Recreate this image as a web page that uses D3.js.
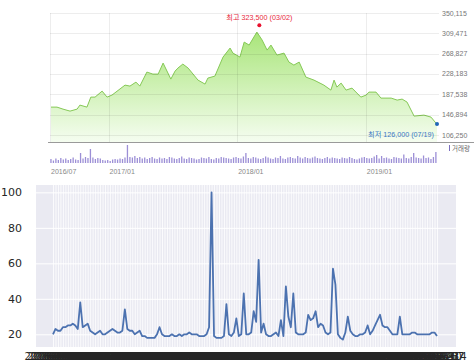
<!DOCTYPE html>
<html>
<head>
<meta charset="utf-8">
<script src="https://cdn.jsdelivr.net/npm/d3@7"></script>
<style>
  body { margin: 0; background: #fff; }
  svg { display: block; }
</style>
</head>
<body>
<svg class="chartContainer" width="474" height="364"></svg>
<script>
// ---------- top: weekly close price + volume ----------
const priceDates = [
  '2016-07-19', '2016-08-05', '2016-08-22', '2016-09-11', '2016-10-01', '2016-10-09', '2016-10-29',
  '2016-11-09', '2016-11-21', '2016-12-11', '2016-12-25', '2017-01-08', '2017-02-14', '2017-02-28',
  '2017-03-17', '2017-03-28', '2017-04-17', '2017-05-04', '2017-05-19', '2017-06-02', '2017-06-24',
  '2017-07-06', '2017-07-14', '2017-07-28', '2017-08-12', '2017-09-09', '2017-09-29', '2017-10-07',
  '2017-10-27', '2017-11-19', '2017-12-09', '2017-12-17', '2018-01-06', '2018-01-18', '2018-02-01',
  '2018-02-23', '2018-03-10', '2018-03-24', '2018-04-04', '2018-04-21', '2018-05-11', '2018-05-25',
  '2018-06-08', '2018-06-23', '2018-07-12', '2018-08-04', '2018-09-01', '2018-09-21', '2018-09-30',
  '2018-10-08', '2018-10-20', '2018-11-03', '2018-11-20', '2018-12-15', '2018-12-30', '2019-01-07',
  '2019-01-27', '2019-02-10', '2019-03-11', '2019-03-28', '2019-04-11', '2019-04-25', '2019-05-15',
  '2019-06-12', '2019-07-02', '2019-07-16', '2019-07-19'
]
const priceValues = [
  162000, 162000, 158000, 154000, 158000, 166000, 162000,
  182000, 182000, 194000, 182000, 186000, 206000, 204000,
  212000, 204000, 232000, 228000, 228000, 250000, 218000,
  234000, 240000, 248000, 240000, 216000, 208000, 220000,
  224000, 262000, 280000, 270000, 262000, 292000, 286000,
  312000, 296000, 276000, 286000, 266000, 270000, 252000,
  246000, 252000, 222000, 216000, 206000, 196000, 216000,
  202000, 210000, 196000, 200000, 182000, 186000, 192000,
  192000, 180000, 180000, 176000, 178000, 172000, 144000,
  146000, 142000, 130000, 127000
]
const priceTicks = [106250, 146894, 187538, 228183, 268827, 309471, 350115]
const dateTicks = ['2016-07-19', '2017-01-01', '2018-01-01', '2019-01-01']
const dateTickLabels = ['2016/07', '2017/01', '2018/01', '2019/01']
const maxMark = { date: '2018-03-02', value: 323500, label: '최고 323,500 (03/02)' }
const minMark = { date: '2019-07-19', value: 126000, label: '최저 126,000 (07/19)' }
const volumeStart = '2016-07-19'
const volumeValues = [
  40, 25, 45, 30, 50, 35, 45, 30, 40, 55,
  35, 30, 100, 45, 60, 50, 140, 55, 40, 50,
  45, 30, 25, 30, 20, 35, 40, 35, 45, 40,
  55, 180, 60, 55, 70, 50, 60, 45, 55, 40,
  50, 60, 45, 40, 55, 45, 50, 40, 60, 55,
  45, 40, 50, 65, 45, 40, 55, 50, 45, 35,
  40, 55, 50, 45, 60, 40, 35, 50, 45, 60,
  55, 50, 45, 40, 55, 60, 50, 45, 65, 100,
  50, 45, 60, 55, 45, 40, 50, 65, 55, 45,
  40, 55, 50, 70, 45, 40, 55, 60, 50, 45,
  70, 55, 45, 60, 50, 45, 55, 65, 50, 45,
  40, 50, 60, 45, 55, 50, 45, 40, 55, 50,
  45, 60, 50, 40, 35, 45, 55, 60, 50, 45,
  50, 65, 80, 45, 70, 50, 55, 45, 40, 60,
  55, 50, 45, 85, 50, 45, 60, 100, 55, 50,
  45, 75, 50, 55, 40, 60, 110
]

// ---------- bottom: weekly search interest ----------
const trendStart = '2016-07-24'
const trendValues = [
  20, 23, 22, 22, 24, 24, 25, 25, 26, 25,
  23, 38, 24, 25, 26, 22, 21, 20, 21, 22,
  20, 20, 21, 22, 23, 22, 21, 21, 22, 34,
  23, 22, 22, 20, 21, 22, 19, 19, 18, 18,
  18, 18, 20, 24, 20, 19, 19, 19, 20, 19,
  19, 20, 19, 20, 20, 21, 20, 20, 20, 19,
  19, 19, 20, 24, 100, 19, 18, 18, 18, 19,
  37, 20, 19, 21, 29, 19, 20, 43, 20, 20,
  21, 33, 27, 62, 21, 26, 20, 19, 19, 20,
  21, 19, 28, 19, 47, 30, 24, 43, 21, 20,
  20, 20, 21, 31, 28, 29, 33, 24, 26, 25,
  21, 20, 21, 57, 48, 20, 18, 17, 21, 30,
  22, 20, 19, 19, 20, 20, 21, 25, 20, 22,
  25, 28, 31, 25, 24, 24, 22, 20, 20, 20,
  30, 20, 20, 20, 20, 21, 21, 20, 20, 20,
  20, 20, 20, 21, 21, 19
]
const trendTicks = [20, 40, 60, 80, 100]

const parse = d3.timeParse('%Y-%m-%d')
const svg = d3.select('svg.chartContainer')
const topFont = "'Liberation Sans', 'Noto Sans CJK KR', sans-serif"

// ===== top chart =====
const pbox = { left: 51, right: 437, priceTop: 13, priceBottom: 135, sep: 142, volBase: 163, volTop: 143 }

const x = d3.scaleTime()
  .domain([parse('2016-07-19'), parse('2019-07-19')])
  .range([pbox.left, pbox.right])
const yPrice = d3.scaleLinear()
  .domain([priceTicks[0], priceTicks[priceTicks.length - 1]])
  .range([pbox.priceBottom, pbox.priceTop])
const yVol = d3.scaleLinear().domain([0, 200]).range([pbox.volBase, pbox.volTop])

const priceData = priceDates.map((d, i) => ({ date: parse(d), value: priceValues[i] }))

const grad = svg.append('defs').append('linearGradient')
  .attr('id', 'areaGrad').attr('x1', 0).attr('y1', 0).attr('x2', 0).attr('y2', 1)
grad.append('stop').attr('offset', '0%').attr('stop-color', '#a9e57a')
grad.append('stop').attr('offset', '100%').attr('stop-color', '#f5fdf0')

// area + line
svg.append('path')
  .datum(priceData)
  .attr('fill', 'url(#areaGrad)')
  .attr('d', d3.area().x(d => x(d.date)).y0(pbox.sep).y1(d => yPrice(d.value)))
svg.append('path')
  .datum(priceData)
  .attr('fill', 'none')
  .attr('stroke', '#86c957')
  .attr('stroke-width', 1)
  .attr('d', d3.line().x(d => x(d.date)).y(d => yPrice(d.value)))

// grid
svg.append('g')
  .selectAll('line')
  .data(priceTicks)
  .join('line')
  .attr('x1', pbox.left - 1).attr('x2', pbox.right + 2)
  .attr('y1', d => Math.round(yPrice(d)) + 0.5).attr('y2', d => Math.round(yPrice(d)) + 0.5)
  .attr('stroke', '#000').attr('stroke-opacity', 0.07)
svg.append('g')
  .selectAll('line')
  .data(dateTicks)
  .join('line')
  .attr('x1', d => Math.round(x(parse(d))) - 0.5).attr('x2', d => Math.round(x(parse(d))) - 0.5)
  .attr('y1', pbox.priceTop).attr('y2', pbox.sep)
  .attr('stroke', '#000').attr('stroke-opacity', 0.07)
svg.append('line')
  .attr('x1', 48).attr('x2', 474).attr('y1', pbox.sep + 0.5).attr('y2', pbox.sep + 0.5)
  .attr('stroke', '#9a9a9a')

// price labels
svg.append('g')
  .selectAll('text')
  .data(priceTicks)
  .join('text')
  .attr('x', 442).attr('y', d => yPrice(d) + 2.5)
  .attr('font-family', topFont).attr('font-size', 7).attr('fill', '#777')
  .text(d => d3.format(',')(d))

// max / min markers
svg.append('circle')
  .attr('cx', x(parse(maxMark.date))).attr('cy', yPrice(maxMark.value) - 1)
  .attr('r', 2).attr('fill', '#e8102e')
svg.append('text')
  .attr('x', x(parse(maxMark.date))).attr('y', yPrice(maxMark.value) - 6)
  .attr('text-anchor', 'middle')
  .attr('font-family', topFont).attr('font-size', 7.2).attr('fill', '#e8283c')
  .text(maxMark.label)
svg.append('circle')
  .attr('cx', x(parse(minMark.date))).attr('cy', yPrice(minMark.value) - 1)
  .attr('r', 2).attr('fill', '#2166b8')
svg.append('text')
  .attr('x', x(parse(minMark.date)) - 3).attr('y', yPrice(minMark.value) + 12)
  .attr('text-anchor', 'end')
  .attr('font-family', topFont).attr('font-size', 7.2).attr('fill', '#3a78c4')
  .text(minMark.label)

// volume
const volStart = parse(volumeStart)
svg.append('g')
  .selectAll('rect')
  .data(volumeValues)
  .join('rect')
  .attr('x', (d, i) => x(d3.timeDay.offset(volStart, i * 7)) - 0.7)
  .attr('width', 1.3)
  .attr('y', d => yVol(d))
  .attr('height', d => pbox.volBase - yVol(d))
  .attr('fill', '#9c8fd6')
svg.append('rect')
  .attr('x', 449).attr('y', 145).attr('width', 1).attr('height', 6).attr('fill', '#7b6fc0')
svg.append('text')
  .attr('x', 452).attr('y', 151)
  .attr('font-family', topFont).attr('font-size', 6.5).attr('fill', '#666')
  .text('거래량')

// date labels
svg.append('g')
  .selectAll('text')
  .data(dateTicks)
  .join('text')
  .attr('x', d => x(parse(d)))
  .attr('y', 174)
  .attr('font-family', topFont).attr('font-size', 7).attr('fill', '#888')
  .text((d, i) => dateTickLabels[i])

// ===== bottom chart =====
const bot = { left: 36, right: 456, top: 185, bottom: 347 }
const weeks = trendValues.map((d, i) => d3.timeFormat('%Y-%m-%d')(d3.timeDay.offset(parse(trendStart), i * 7)))

const xb = d3.scalePoint().domain(weeks).range([53, 437])
const yb = d3.scaleLinear().domain([12.85, 104.15]).range([bot.bottom, bot.top])

svg.append('rect')
  .attr('x', bot.left).attr('y', bot.top)
  .attr('width', bot.right - bot.left).attr('height', bot.bottom - bot.top)
  .attr('fill', '#eaeaf2')

const xAxisG = svg.append('g')
  .attr('transform', `translate(0,${bot.bottom})`)
  .call(d3.axisBottom(xb).tickSizeInner(-(bot.bottom - bot.top)).tickSizeOuter(0).tickPadding(6))
xAxisG.select('.domain').remove()
xAxisG.selectAll('line').attr('stroke', '#fff').attr('stroke-width', 0.8)
xAxisG.selectAll('text')
  .attr('font-family', "'DejaVu Sans', sans-serif").attr('font-size', 10).attr('fill', '#262626')

const yAxisG = svg.append('g')
  .attr('transform', `translate(${bot.left},0)`)
  .call(d3.axisLeft(yb).tickValues(trendTicks).tickSizeInner(-(bot.right - bot.left)).tickSizeOuter(0).tickPadding(14))
yAxisG.select('.domain').remove()
yAxisG.selectAll('line').attr('stroke', '#fff').attr('stroke-width', 1)
yAxisG.selectAll('text')
  .attr('font-family', "'DejaVu Sans', sans-serif").attr('font-size', 11).attr('fill', '#262626')

svg.append('path')
  .datum(trendValues)
  .attr('fill', 'none')
  .attr('stroke', '#4c72b0')
  .attr('stroke-width', 1.8)
  .attr('stroke-linejoin', 'round')
  .attr('d', d3.line().x((d, i) => xb(weeks[i])).y(d => yb(d)))
</script>
</body>
</html>
